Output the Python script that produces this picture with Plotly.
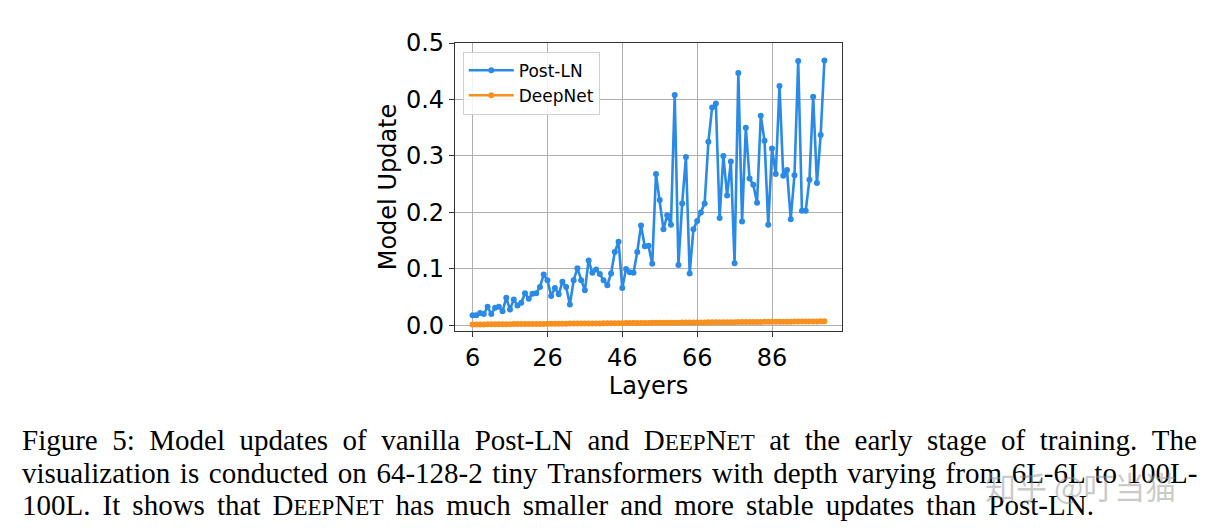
import plotly.graph_objects as go

layers = list(range(6, 101))

post_ln = [
    0.018, 0.018, 0.022, 0.020, 0.033, 0.020, 0.031, 0.033, 0.025, 0.049,
    0.028, 0.046, 0.035, 0.040, 0.057, 0.047, 0.056, 0.057, 0.068, 0.090,
    0.080, 0.052, 0.066, 0.055, 0.077, 0.068, 0.037, 0.080, 0.101, 0.080,
    0.062, 0.115, 0.093, 0.099, 0.091, 0.080, 0.071, 0.092, 0.130, 0.148,
    0.066, 0.100, 0.094, 0.093, 0.130, 0.177, 0.140, 0.141, 0.109, 0.268,
    0.222, 0.170, 0.195, 0.178, 0.408, 0.107, 0.216, 0.298, 0.092, 0.170,
    0.185, 0.200, 0.216, 0.325, 0.386, 0.393, 0.190, 0.300, 0.230, 0.290,
    0.110, 0.447, 0.184, 0.350, 0.260, 0.249, 0.217, 0.371, 0.327, 0.178,
    0.313, 0.268, 0.424, 0.265, 0.275, 0.188, 0.266, 0.468, 0.203, 0.203,
    0.258, 0.405, 0.252, 0.337, 0.469,
]

deepnet = [
    0.0015, 0.0016, 0.0016, 0.0017, 0.0018, 0.0018, 0.0019, 0.0019, 0.0020, 0.0020,
    0.0021, 0.0022, 0.0022, 0.0023, 0.0023, 0.0024, 0.0025, 0.0025, 0.0026, 0.0026,
    0.0027, 0.0028, 0.0028, 0.0029, 0.0029, 0.0030, 0.0031, 0.0031, 0.0032, 0.0032,
    0.0033, 0.0034, 0.0034, 0.0035, 0.0035, 0.0036, 0.0037, 0.0037, 0.0038, 0.0038,
    0.0039, 0.0040, 0.0040, 0.0041, 0.0041, 0.0042, 0.0043, 0.0043, 0.0044, 0.0044,
    0.0045, 0.0046, 0.0046, 0.0047, 0.0047, 0.0048, 0.0049, 0.0049, 0.0050, 0.0050,
    0.0051, 0.0052, 0.0052, 0.0053, 0.0053, 0.0054, 0.0055, 0.0055, 0.0056, 0.0056,
    0.0057, 0.0058, 0.0058, 0.0059, 0.0059, 0.0060, 0.0061, 0.0061, 0.0062, 0.0062,
    0.0063, 0.0064, 0.0064, 0.0065, 0.0065, 0.0066, 0.0067, 0.0067, 0.0068, 0.0068,
    0.0069, 0.0070, 0.0070, 0.0071, 0.0071,
]

x_ticks = [6, 26, 46, 66, 86]
y_ticks = [0.0, 0.1, 0.2, 0.3, 0.4, 0.5]
y_tick_labels = ["0.0", "0.1", "0.2", "0.3", "0.4", "0.5"]

SC = "<span style='font-size:23px'>{}</span>"
DEEPNET = "D" + SC.format("EEP") + "N" + SC.format("ET")

caption_words = [
    ["Figure", "5:", "Model", "updates", "of", "vanilla", "Post-LN", "and", DEEPNET,
     "at", "the", "early", "stage", "of", "training.", "The"],
    ["visualization", "is", "conducted", "on", "64-128-2", "tiny", "Transformers", "with",
     "depth", "varying", "from", "6L-6L", "to", "100L-"],
    ["100L.", "It", "shows", "that", DEEPNET, "has", "much", "smaller", "and", "more",
     "stable", "updates", "than", "Post-LN."],
]

# spacing between words (the printed caption is justified)
caption_gaps = [" \u00a0", " \u200a", " \u200a\u200a"]

BLUE = "#2a8ae6"
ORANGE = "#f7901e"

fig = go.Figure()
fig.add_trace(go.Scatter(
    x=layers, y=post_ln, mode="lines+markers", name="Post-LN",
    line=dict(color=BLUE, width=2.6), marker=dict(color=BLUE, size=6),
))
fig.add_trace(go.Scatter(
    x=layers, y=deepnet, mode="lines+markers", name="DeepNet",
    line=dict(color=ORANGE, width=2.6), marker=dict(color=ORANGE, size=6),
))

axis_font = dict(family="DejaVu Sans", size=24, color="black")

L, T, W, H = 447, 35, 387, 288

fig.update_layout(
    width=1224, height=532,
    margin=dict(l=L, r=1224 - L - W, t=T, b=532 - T - H),
    paper_bgcolor="white", plot_bgcolor="white",
    showlegend=True,
    legend=dict(
        x=0.02, y=0.97, xanchor="left", yanchor="top",
        bgcolor="rgba(255,255,255,0.85)", bordercolor="#d0d0d0", borderwidth=1,
        font=dict(family="DejaVu Sans", size=17, color="black"),
        tracegroupgap=0, itemwidth=45,
    ),
    xaxis=dict(
        range=[1.3, 104.7], tickmode="array", tickvals=x_ticks,
        showgrid=True, gridcolor="#b0b0b0", gridwidth=1,
        showline=True, linecolor="#333333", linewidth=1.2, mirror=True,
        ticks="outside", ticklen=5, tickcolor="#333333",
        tickfont=axis_font, zeroline=False,
        title=dict(text="Layers", font=axis_font, standoff=0),
    ),
    yaxis=dict(
        range=[-0.01, 0.5], tickmode="array", tickvals=y_ticks, ticktext=y_tick_labels,
        showgrid=True, gridcolor="#b0b0b0", gridwidth=1,
        showline=True, linecolor="#333333", linewidth=1.2, mirror=True,
        ticks="outside", ticklen=5, tickcolor="#333333",
        tickfont=axis_font, zeroline=False,
        title=dict(text="Model Update", font=axis_font, standoff=2),
    ),
)

caption_y = [432, 465, 497]
for words, gap, yy in zip(caption_words, caption_gaps, caption_y):
    fig.add_annotation(
        text=gap.join(words), xref="paper", yref="paper",
        x=(12 - L) / W, y=(T + H - yy) / H,
        xanchor="left", yanchor="middle", showarrow=False,
        font=dict(family="Liberation Serif", size=29, color="black"),
    )

fig.add_annotation(
    text="知乎 @叮当猫", xref="paper", yref="paper",
    x=(1072 - L) / W, y=(T + H - 477) / H,
    xanchor="center", yanchor="middle", showarrow=False,
    font=dict(family="Noto Sans CJK SC", size=31, color="rgba(150,150,150,0.5)"),
)

fig.write_html("out.html")
